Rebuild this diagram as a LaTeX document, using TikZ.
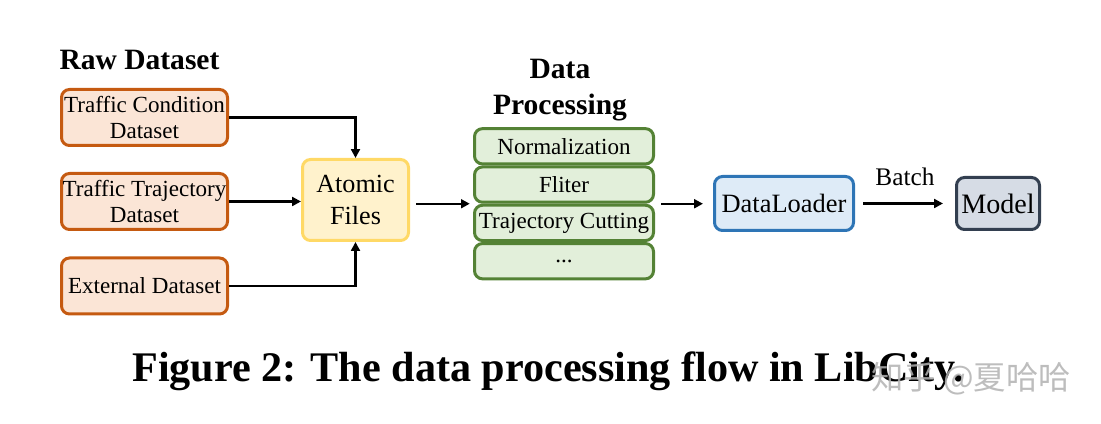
\documentclass[tikz,border=0pt]{standalone}
\usepackage{fontspec}
\setmainfont{Liberation Serif}
\newfontfamily\cjkfont{Noto Sans CJK SC}
\usetikzlibrary{arrows.meta}
\definecolor{rawline}{HTML}{C55A11}
\definecolor{rawfill}{HTML}{FBE5D6}
\definecolor{atomline}{HTML}{FFD966}
\definecolor{atomfill}{HTML}{FFF2CC}
\definecolor{procline}{HTML}{548235}
\definecolor{procfill}{HTML}{E2EFDA}
\definecolor{loadline}{HTML}{2E75B6}
\definecolor{loadfill}{HTML}{DEEBF7}
\definecolor{modelline}{HTML}{333F50}
\definecolor{modelfill}{HTML}{D6DCE5}
\begin{document}
\begin{tikzpicture}
\tikzstyle{every node}=[inner sep=0pt,align=center]
\tikzstyle{box}=[draw,rounded corners=0.2cm,line width=0.075cm]
\tikzstyle{rawbox}=[box,draw=rawline,fill=rawfill,minimum width=4.15cm,minimum height=1.4cm,font=\fontsize{16.4}{19.2}\selectfont]
\tikzstyle{stepbox}=[box,draw=procline,fill=procfill,minimum width=4.475cm,minimum height=0.8825cm,font=\fontsize{16.4}{19.2}\selectfont]
\tikzstyle{title}=[font=\bfseries\fontsize{21}{25.6}\selectfont]
\tikzstyle{flow}=[-{Triangle[length=0.22cm,width=0.22cm]},line width=0.06cm]
\useasboundingbox (0,0) rectangle (27.525,10.6);
\node[title](rawtitle) at (3.4875,9.1) {Raw Dataset};
\node[rawbox](d1) at (3.6125,7.6625) {Traffic Condition\\Dataset};
\node[rawbox](d2) at (3.6125,5.5625) {Traffic Trajectory\\Dataset};
\node[rawbox](d3) at (3.6125,3.45) {External Dataset};
\node[box,draw=atomline,fill=atomfill,minimum width=2.65cm,minimum height=2.025cm,font=\fontsize{18.6}{23.4}\selectfont](atomic) at (8.8875,5.6) {Atomic\\Files};
\node[title](proctitle) at (14.0,8.35) {Data\\Processing};
\node[stepbox](p1) at (14.1,6.9425) {Normalization};
\node[stepbox](p2) at (14.1,5.985) {Fliter};
\node[stepbox](p3) at (14.1,5.0275) {Trajectory Cutting};
\node[stepbox](p4) at (14.1,4.07) {...};
\node[box,draw=loadline,fill=loadfill,minimum width=3.475cm,minimum height=1.35cm,font=\fontsize{18.8}{22}\selectfont](dl) at (19.6,5.5125) {DataLoader};
\node[box,draw=modelline,fill=modelfill,minimum width=2.075cm,minimum height=1.3cm,font=\fontsize{20}{24}\selectfont](model) at (24.95,5.5125) {Model};
\draw[flow] (d1.east) -| (atomic.north);
\draw[flow] (d2.east) -- (atomic.west |- d2.east);
\draw[flow] (d3.east) -| (atomic.south);
\draw[flow,shorten <=0.15cm,shorten >=0.08cm] (atomic.east |- p2.south west) -- (p2.south west);
\draw[flow,shorten <=0.15cm,shorten >=0.25cm] (p2.south east) -- (p2.south east -| dl.west);
\draw[flow,shorten <=0.2cm,shorten >=0.3cm] (dl.east) -- (model.west) node[midway,above=0.42cm,font=\fontsize{18}{21}\selectfont](batch){Batch};
\node[anchor=base west,font=\bfseries\fontsize{30}{36}\selectfont](caption) at (3.3,1.05) {Figure 2: The data processing flow in LibCity.};
\node[text=gray!60,text opacity=0.85,font=\cjkfont\fontsize{23}{28}\selectfont](mark) at (24.275,1.125) {知乎 @夏哈哈};
\end{tikzpicture}
\end{document}
